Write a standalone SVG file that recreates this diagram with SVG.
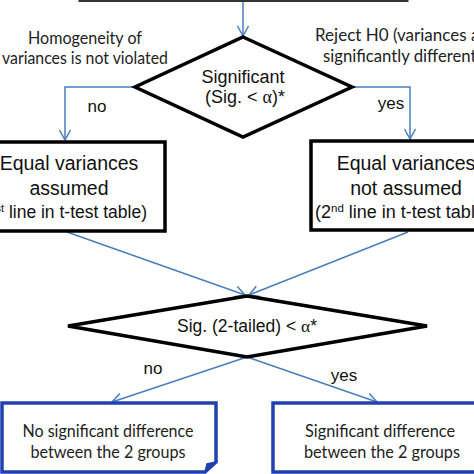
<svg xmlns="http://www.w3.org/2000/svg" width="474" height="474" viewBox="0 0 474 474">
<style>
.conn{fill:none;stroke:#4a7ebb;stroke-width:1.5}
.blk{fill:#fff;stroke:#000;stroke-width:3.5;stroke-linejoin:miter}
.blue{fill:#fff;stroke:#2141b0;stroke-width:3.5}
.ar{font-family:"Liberation Sans",Arial,sans-serif;fill:#111}
.cal{font-family:Lato,"Open Sans",sans-serif;fill:#222}
.gr{font-family:"Liberation Serif",serif}
</style>
<defs>
<marker id="arr" markerUnits="userSpaceOnUse" markerWidth="14" markerHeight="14" viewBox="-12 -7 14 14" refX="0" refY="0" orient="auto">
<path d="M-10,-5.5 L0,0 L-10,5.5" fill="none" stroke="#4a7ebb" stroke-width="1.5"/>
</marker>
</defs>
<rect width="474" height="474" fill="#fff"/>
<g id="connectors">
<path class="conn" d="M243,0 V36" marker-end="url(#arr)"/>
<path class="conn" d="M135,87 H65 V140" marker-end="url(#arr)"/>
<path class="conn" d="M352,87 H410 V139" marker-end="url(#arr)"/>
<path class="conn" d="M67,232 L245,295" marker-end="url(#arr)"/>
<path class="conn" d="M408,232 L249,295" marker-end="url(#arr)"/>
<path class="conn" d="M247,357 L112,402" marker-end="url(#arr)"/>
<path class="conn" d="M247,357 L377,402" marker-end="url(#arr)"/>
</g>
<g id="top-box">
<rect x="80" y="-20" width="327" height="20.5" fill="#fff" stroke="#333" stroke-width="3"/>
</g>
<g id="labels">
<text class="cal" font-size="17" x="85" y="44" text-anchor="middle" textLength="114" lengthAdjust="spacingAndGlyphs">Homogeneity of</text>
<text class="cal" font-size="17" x="85" y="64" text-anchor="middle" textLength="166" lengthAdjust="spacingAndGlyphs">variances is not violated</text>
<text class="cal" font-size="17" x="315" y="41">Reject H0 (variances are</text>
<text class="cal" font-size="17" x="323" y="62" textLength="158" lengthAdjust="spacingAndGlyphs">significantly different)</text>
<text class="ar" font-size="17" x="97" y="112" text-anchor="middle">no</text>
<text class="ar" font-size="17" x="391" y="109" text-anchor="middle">yes</text>
<text class="ar" font-size="17" x="153" y="374" text-anchor="middle">no</text>
<text class="ar" font-size="17" x="344" y="381" text-anchor="middle">yes</text>
</g>
<g id="decision1">
<polygon class="blk" points="243,37 352,87 243,137 135,87"/>
<text class="ar" font-size="18" x="243" y="83" text-anchor="middle">Significant</text>
<text class="ar" font-size="18" x="245" y="103" text-anchor="middle">(Sig. &lt; <tspan class="gr">α</tspan>)*</text>
</g>
<g id="box-equal">
<rect class="blk" x="-27" y="142" width="192" height="89" stroke-width="4"/>
<text class="ar" font-size="19.5" x="69" y="170" text-anchor="middle">Equal variances</text>
<text class="ar" font-size="19.5" x="69" y="195" text-anchor="middle">assumed</text>
<text class="ar" font-size="17.5" x="147" y="218" text-anchor="end">(1<tspan font-size="11" dy="-6">st</tspan><tspan dy="6"> line in t-test table)</tspan></text>
</g>
<g id="box-unequal">
<rect class="blk" x="311" y="141" width="192" height="89" stroke-width="4"/>
<text class="ar" font-size="19.5" x="406" y="170" text-anchor="middle">Equal variances</text>
<text class="ar" font-size="19.5" x="406" y="195" text-anchor="middle">not assumed</text>
<text class="ar" font-size="18" x="315" y="218">(2<tspan font-size="11.5" dy="-6">nd</tspan><tspan dy="6"> line in t-test table)</tspan></text>
</g>
<g id="decision2">
<polygon class="blk" points="247,296 427,326 247,357 68,326"/>
<text class="ar" font-size="17.5" x="247" y="332" text-anchor="middle">Sig. (2-tailed) &lt; <tspan class="gr">α</tspan>*</text>
</g>
<g id="result-no">
<path class="blue" d="M2,403 H216 V462 L205,472 H2 Z"/>
<path d="M216,462 L205,472 L207,464 Z" fill="#2141b0" stroke="#2141b0" stroke-width="1.5"/>
<text class="cal" font-size="17" x="108" y="437" text-anchor="middle" textLength="171" lengthAdjust="spacingAndGlyphs">No significant difference</text>
<text class="cal" font-size="17" x="108" y="458" text-anchor="middle" textLength="155" lengthAdjust="spacingAndGlyphs">between the 2 groups</text>
</g>
<g id="result-yes">
<rect class="blue" x="273" y="403" width="215" height="69"/>
<text class="cal" font-size="17" x="380" y="437" text-anchor="middle" textLength="150" lengthAdjust="spacingAndGlyphs">Significant difference</text>
<text class="cal" font-size="17" x="382" y="458" text-anchor="middle" textLength="156" lengthAdjust="spacingAndGlyphs">between the 2 groups</text>
</g>
</svg>
